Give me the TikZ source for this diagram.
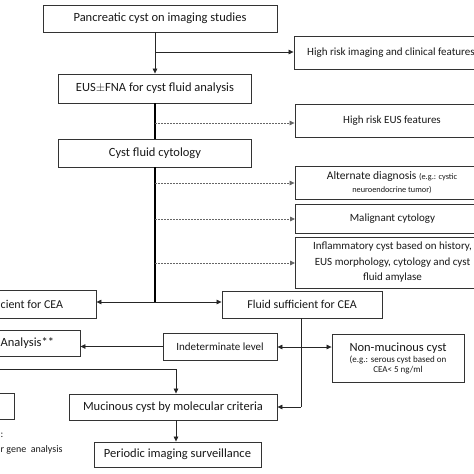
\documentclass[tikz,border=0pt]{standalone}
\usepackage{fontspec}
\setmainfont{Carlito}
\usetikzlibrary{arrows.meta}
\newcommand{\mainsz}{\fontsize{12.5}{15}\selectfont}
\newcommand{\sidesz}{\fontsize{11}{15.5}\selectfont}
\newcommand{\smallsz}{\fontsize{8.3}{10}\selectfont}
\newcommand{\nonsz}{\fontsize{9}{10.5}\selectfont}
\begin{document}
\begin{tikzpicture}[x=1pt,y=-1pt,
  box/.style={draw=black!80, line width=0.9pt, inner sep=0pt, align=center, text=black!90},
  mainbox/.style={box, font=\mainsz},
  sidebox/.style={box, font=\sidesz, minimum width=194pt},
  arr/.style={-{Triangle[length=5pt,width=4.5pt]}, line width=0.7pt, draw=black!85},
  dsh/.style={arr, draw=black!60, dash pattern=on 2pt off 1pt},
  trunk/.style={line width=2.4pt, draw=black},
  plain/.style={line width=0.7pt, draw=black!85},
  lbl/.style={inner sep=0pt, text=black!90}]
\useasboundingbox (0,0) rectangle (474,474);
\clip (0,0) rectangle (474,474);
\fill[white] (0,0) rectangle (474,474);

% main column
\node[mainbox, minimum width=234pt, minimum height=27pt] (pc) at (160,18.5) {Pancreatic cyst on imaging studies};
\node[mainbox, minimum width=193pt, minimum height=29pt] (eus) at (155,88.5) {EUS$\pm$FNA for cyst fluid analysis};
\node[mainbox, minimum width=193pt, minimum height=28pt] (cyt) at (155,153) {Cyst fluid cytology};

% right side boxes
\node[sidebox, minimum height=33pt] (hr1) at (391,52.5) {High risk imaging and clinical features};
\node[sidebox, minimum height=33pt] (hr2) at (392,120.5) {High risk EUS features};
\node[sidebox, minimum height=33pt] (alt) at (392,182.5) {\fontsize{11.5}{15}\selectfont Alternate diagnosis {\smallsz (e.g.: cystic}\\[-2pt]{\smallsz neuroendocrine tumor)}};
\node[sidebox, minimum height=29pt] (mal) at (392.5,218.5) {Malignant cytology};
\node[sidebox, minimum height=51pt] (inf) at (392.5,262.5) {Inflammatory cyst based on history,\\EUS morphology, cytology and cyst\\fluid amylase};

% fluid boxes
\node[box, minimum width=170pt, minimum height=28pt] (insuf) at (11,304) {};
\node[lbl, font=\fontsize{12}{14}\selectfont, anchor=west] (insuftxt) at (0.5,304) {cient for CEA};
\node[box, font=\fontsize{12}{14}\selectfont, minimum width=160pt, minimum height=27pt] (suf) at (302,304.5) {Fluid sufficient for CEA};

% lower boxes
\node[box, font=\fontsize{11}{14}\selectfont, minimum width=114pt, minimum height=27pt] (indet) at (220,346.5) {Indeterminate level};
\node[box, minimum width=132pt, minimum height=48pt] (non) at (398,358) {{\mainsz Non-mucinous cyst}\\[-1pt]{\nonsz (e.g.: serous cyst based on}\\[-2pt]{\nonsz CEA< 5 ng/ml}};
\node[box, minimum width=120pt, minimum height=26pt] (anal) at (20,343.5) {};
\node[lbl, font=\mainsz, anchor=west] (analtxt) at (0.5,343) {Analysis**};
\node[mainbox, minimum width=208pt, minimum height=26pt] (muc) at (173,407) {Mucinous cyst by molecular criteria};
\node[mainbox, minimum width=167pt, minimum height=25pt] (per) at (177.5,454.5) {Periodic imaging surveillance};
\node[box, minimum width=34pt, minimum height=26pt] (sm) at (-3,406) {};
\node[lbl, font=\fontsize{10}{12}\selectfont, anchor=west] (colon) at (0.5,435) {:};
\node[lbl, font=\fontsize{10}{12}\selectfont, anchor=west] (gene) at (0.5,450) {r gene\ \ analysis};

% connectors
\coordinate (j1) at (155,52);
\coordinate (j2) at (155,123);
\coordinate (j3) at (155,183);
\coordinate (j4) at (155,219);
\coordinate (j5) at (155,263);
\coordinate (split) at (155,302);
\coordinate (v1) at (301,347);
\coordinate (v2) at (301,407);
\coordinate (L) at (-2,369);
\coordinate (m1) at (176,369);

\draw[arr] (pc.south -| eus.north) -- (eus.north);
\draw[arr] (j1) -- (j1 -| hr1.west);
\draw[trunk] (eus.south) -- (cyt.north);
\draw[trunk] (cyt.south) -- (split);
\draw[dsh] (j2) -- (j2 -| hr2.west);
\draw[dsh] (j3) -- (j3 -| alt.west);
\draw[dsh] (j4) -- (j4 -| mal.west);
\draw[dsh] (j5) -- (j5 -| inf.west);
\draw[arr] (split) -- (split -| insuf.east);
\draw[arr] (split) -- (split -| suf.west);
\draw[plain] (suf.south -| v1) -- (v2);
\draw[arr] (v2) -- (v2 -| muc.east);
\draw[arr] (v1) -- (v1 -| indet.east);
\draw[arr] (v1) -- (v1 -| non.west);
\draw[arr] (indet.west) -- (indet.west -| anal.east);
\draw[arr] (L) -- (m1) -- (m1 |- muc.north);
\draw[arr] (muc.south -| m1) -- (per.north -| m1);
\end{tikzpicture}
\end{document}
